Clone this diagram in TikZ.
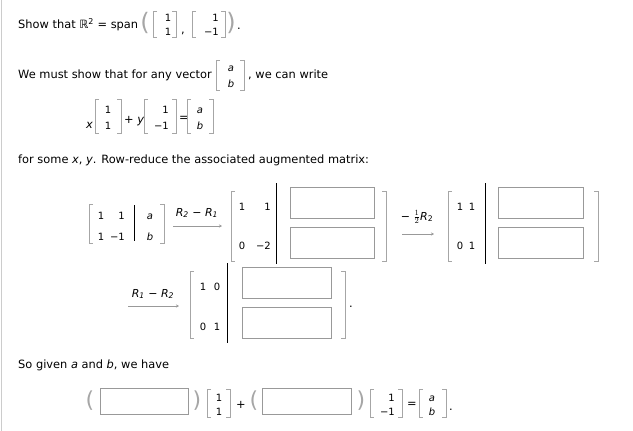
\documentclass[tikz,border=0pt]{standalone}
\usepackage{fontspec}
\setmainfont{DejaVu Sans}
\usetikzlibrary{arrows.meta}
\begin{document}
\begin{tikzpicture}[x=1pt,y=-1pt,
  txt/.style={anchor=base west,inner sep=0,font=\fontsize{11.4}{13}\selectfont},
  num/.style={anchor=base,inner sep=0,font=\fontsize{10}{12}\selectfont},
  ans/.style={draw=gray!80,line width=0.7pt,fill=white},
  brk/.style={draw=gray!70,line width=0.9pt},
  arr/.style={draw=gray!80,line width=0.6pt,-{Stealth[length=3pt,width=3pt]}}]
\newcommand\lbk[3]{\draw[brk] (#1+4,#2)--(#1,#2)--(#1,#3)--(#1+4,#3);}
\newcommand\rbk[3]{\draw[brk] (#1-4,#2)--(#1,#2)--(#1,#3)--(#1-4,#3);}
\useasboundingbox (0,0) rectangle (633,431);
\draw[gray!40,line width=0.8pt] (1,0)--(1,431);
% line 1
\node[txt] (t1) at (18,28) {Show that ℝ\textsuperscript{2} = span};
\node[inner sep=0,font=\fontsize{24}{24}\selectfont,gray!70] (p1) at (145,23) {(};
\lbk{153}{11}{37}\rbk{176}{11}{37}
\node[num] (a1) at (168,21) {1};\node[num] (a2) at (168,35) {1};
\node[txt] (c1) at (181,34) {,};
\lbk{192}{11}{37}\rbk{225}{11}{37}
\node[num,anchor=base east] (b1) at (219,21) {1};\node[num,anchor=base east] (b2) at (219,35) {−1};
\node[inner sep=0,font=\fontsize{24}{24}\selectfont,gray!70] (p2) at (231,23) {)};
\node[txt] (d1) at (237,30) {.};
% line 2
\node[txt] (t2) at (18,78) {We must show that for any vector};
\lbk{216}{60}{90}\rbk{244}{60}{90}
\node[num] (v1) at (231,71) {\itshape a};\node[num] (v2) at (231,87) {\itshape b};
\node[txt] (t2b) at (248,78) {, we can write};
% line 3
\node[txt] (x3) at (86,128) {\itshape x};
\lbk{95}{99}{133}\rbk{121}{99}{133}
\node[num] (e1) at (108,113) {1};\node[num] (e2) at (108,129) {1};
\node[txt] (py) at (124,123) {+ \itshape y};
\lbk{144}{99}{133}\rbk{176}{99}{133}
\node[num,anchor=base east] (f1) at (169,113) {1};\node[num,anchor=base east] (f2) at (169,129) {−1};
\node[txt] (eq3) at (179,121) {=};
\lbk{187}{99}{133}\rbk{213}{99}{133}
\node[num] (g1) at (200,113) {\itshape a};\node[num] (g2) at (200,129) {\itshape b};
\node[txt] (t4) at (18,163) {for some \textit{x}, \textit{y}. Row-reduce the associated augmented matrix:};
% matrix 1
\lbk{89}{204}{243}\rbk{164}{204}{243}
\node[num] (m11) at (101,219) {1};\node[num,anchor=base east] (m12) at (125,219) {1};\node[num] (m13) at (150,219) {\itshape a};
\node[num] (m21) at (101,240) {1};\node[num,anchor=base east] (m22) at (125,240) {−1};\node[num] (m23) at (150,240) {\itshape b};
\draw[line width=0.7pt] (134,205)--(134,241);
\node[num,font=\fontsize{11}{12}\selectfont] (l1) at (197,216) {\itshape R\textsubscript{2} − R\textsubscript{1}};
\coordinate (a1s) at (173,226);\coordinate (a1e) at (222,226);
\draw[arr] (a1s)--(a1e);
% matrix 2
\lbk{231}{191}{261}\rbk{386}{191}{261}
\node[num] (n11) at (242,210) {1};\node[num,anchor=base east] (n12) at (271,210) {1};
\node[num] (n21) at (242,249) {0};\node[num,anchor=base east] (n22) at (271,249) {−2};
\draw[line width=0.7pt] (276,183)--(276,264);
\node[ans,minimum width=84pt,minimum height=31pt,anchor=north west] (bx1) at (290,187) {};
\node[ans,minimum width=84pt,minimum height=31pt,anchor=north west] (bx2) at (290,227) {};
\node[num,font=\fontsize{11}{12}\selectfont] (l2) at (417,220) {− $\frac{1}{2}$\textit{R}\textsubscript{2}};
\coordinate (a2s) at (402,234);\coordinate (a2e) at (434,234);
\draw[arr] (a2s)--(a2e);
% matrix 3
\lbk{448}{191}{261}\rbk{598}{191}{261}
\node[num] (q11) at (460,210) {1};\node[num] (q12) at (472,210) {1};
\node[num] (q21) at (460,249) {0};\node[num] (q22) at (472,249) {1};
\draw[line width=0.7pt] (485,183)--(485,264);
\node[ans,minimum width=85pt,minimum height=31pt,anchor=north west] (bx3) at (498,187) {};
\node[ans,minimum width=85pt,minimum height=31pt,anchor=north west] (bx4) at (498,227) {};
% matrix 4
\node[num,font=\fontsize{11}{12}\selectfont] (l3) at (153,297) {\itshape R\textsubscript{1} − R\textsubscript{2}};
\coordinate (a3s) at (128,306);\coordinate (a3e) at (179,306);
\draw[arr] (a3s)--(a3e);
\lbk{190}{271}{338}\rbk{345}{271}{338}
\node[num] (r11) at (203,290) {1};\node[num] (r12) at (217,290) {0};
\node[num] (r21) at (203,330) {0};\node[num] (r22) at (217,330) {1};
\draw[line width=0.7pt] (227,263)--(227,343);
\node[ans,minimum width=89pt,minimum height=31pt,anchor=north west] (bx5) at (242,267) {};
\node[ans,minimum width=89pt,minimum height=31pt,anchor=north west] (bx6) at (242,307) {};
\node[txt] (d4) at (349,307) {.};
% final
\node[txt] (t5) at (18,368) {So given \textit{a} and \textit{b}, we have};
\node[inner sep=0,font=\fontsize{22}{22}\selectfont,gray!70] (q1) at (90,401) {(};
\node[ans,minimum width=88pt,minimum height=26pt,anchor=north west] (bx7) at (100,388) {};
\node[inner sep=0,font=\fontsize{22}{22}\selectfont,gray!70] (q2) at (197,401) {)};
\lbk{207}{389}{417}\rbk{230}{389}{417}
\node[num] (s1) at (219,401) {1};\node[num] (s2) at (219,415) {1};
\node[txt] (pl) at (236,408) {+};
\node[inner sep=0,font=\fontsize{22}{22}\selectfont,gray!70] (q3) at (254,401) {(};
\node[ans,minimum width=89pt,minimum height=26pt,anchor=north west] (bx8) at (262,388) {};
\node[inner sep=0,font=\fontsize{22}{22}\selectfont,gray!70] (q4) at (361,401) {)};
\lbk{370}{389}{417}\rbk{402}{389}{417}
\node[num,anchor=base east] (u1) at (395,401) {1};\node[num,anchor=base east] (u2) at (395,415) {−1};
\node[txt] (eq5) at (407,407) {=};
\lbk{419}{389}{417}\rbk{446}{389}{417}
\node[num] (w1) at (432,401) {\itshape a};\node[num] (w2) at (432,415) {\itshape b};
\node[txt] (d5) at (449,410) {.};
\end{tikzpicture}
\end{document}
